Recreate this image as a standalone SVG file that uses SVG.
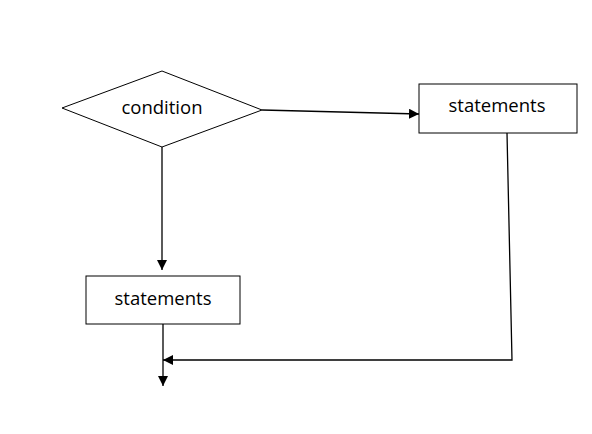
<svg xmlns="http://www.w3.org/2000/svg" width="592" height="434" viewBox="0 0 592 434">
<style>
.shape{fill:#fff;stroke:#000;stroke-width:1}
.lbl{font-family:"Open Sans","Liberation Sans",sans-serif;font-size:18.5px;fill:#000;text-anchor:middle;dominant-baseline:central}
.conn{fill:none;stroke:#000;stroke-width:1.3}
</style>
<defs>
<marker id="ah" viewBox="0 0 10 10" refX="10" refY="5" markerWidth="10" markerHeight="10" markerUnits="userSpaceOnUse" orient="auto">
<path d="M0,0 L10,5 L0,10 Z" fill="#000"/>
</marker>
</defs>
<rect width="592" height="434" fill="#fff"/>
<g id="connectors">
<line class="conn" x1="262" y1="110" x2="419" y2="114" marker-end="url(#ah)"/>
<line class="conn" x1="162" y1="147" x2="162" y2="270" marker-end="url(#ah)"/>
<polyline class="conn" points="507,133 512,360 163,360" marker-end="url(#ah)"/>
<line class="conn" x1="163" y1="324" x2="163" y2="386" marker-end="url(#ah)"/>
</g>
<g id="condition">
<polygon class="shape" points="62,108 162,71 262,110 162,147"/>
<text class="lbl" x="162" y="106">condition</text>
</g>
<g id="statements-right">
<rect class="shape" x="419" y="84" width="158" height="49"/>
<text class="lbl" x="497" y="104">statements</text>
</g>
<g id="statements-left">
<rect class="shape" x="86" y="276" width="154" height="48"/>
<text class="lbl" x="163" y="297">statements</text>
</g>
</svg>
